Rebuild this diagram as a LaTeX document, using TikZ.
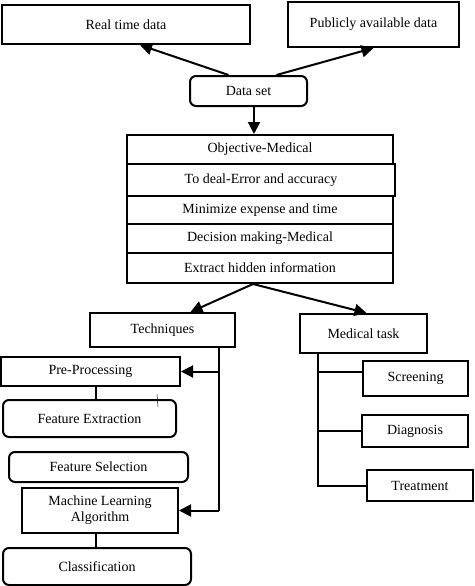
\documentclass[tikz,border=0pt]{standalone}
\usepackage{fontspec}
\setmainfont{Liberation Serif}
\usetikzlibrary{arrows.meta}
\tikzset{
  box/.style={draw, line width=2pt, inner sep=1pt, align=center, font=\fontsize{14}{16}\selectfont},
  rbox/.style={box, rounded corners=6pt},
  link/.style={line width=2pt},
  arr/.style={link, -{Triangle[length=12pt, width=12pt]}}
}
\begin{document}
\begin{tikzpicture}[x=1pt, y=-1pt]
  \useasboundingbox (0,0) rectangle (474,586);
  \node [box, minimum width=248pt, minimum height=39pt] (real) at (126, 24.5) {Real time data};
  \node [box, minimum width=171pt, minimum height=45pt] (public) at (373.5, 24.5) {Publicly available data};
  \node [rbox, minimum width=117pt, minimum height=30pt] (dataset) at (248.5, 91) {Data set};
  \node [box, minimum width=266pt, minimum height=29pt] (obj1) at (260, 149.5) {Objective-Medical};
  \node [box, minimum width=268pt, minimum height=32pt] (obj2) at (261, 180) {To deal-Error and accuracy};
  \node [box, minimum width=266pt, minimum height=28pt] (obj3) at (260, 210) {Minimize expense and time};
  \node [box, minimum width=266pt, minimum height=29pt] (obj4) at (260, 238.5) {Decision making-Medical};
  \node [box, minimum width=266pt, minimum height=30pt] (obj5) at (260, 268) {Extract hidden information};
  \node [box, minimum width=145pt, minimum height=34pt] (tech) at (162.5, 330) {Techniques};
  \node [box, minimum width=127pt, minimum height=39pt] (med) at (363.5, 333.5) {Medical task};
  \node [box, minimum width=179pt, minimum height=29pt] (pre) at (90.5, 371.5) {Pre-Processing};
  \node [rbox, minimum width=173pt, minimum height=37pt] (fext) at (89.5, 418.5) {Feature Extraction};
  \node [rbox, minimum width=179pt, minimum height=30pt] (fsel) at (98.5, 467) {Feature Selection};
  \node [box, minimum width=156pt, minimum height=45pt] (mla) at (100, 510.5) {Machine Learning\\Algorithm};
  \node [rbox, minimum width=188pt, minimum height=37pt] (cls) at (97, 566.5) {Classification};
  \node [box, minimum width=105pt, minimum height=35pt] (scr) at (415.5, 378.5) {Screening};
  \node [box, minimum width=106pt, minimum height=32pt] (diag) at (415, 431) {Diagnosis};
  \node [box, minimum width=106pt, minimum height=31pt] (treat) at (420, 485.5) {Treatment};

  \draw [arr] ([xshift=-20pt]dataset.north) -- ([xshift=14pt]real.south);
  \draw [arr] ([xshift=28pt]dataset.north) -- (public.south);
  \draw [arr] ([xshift=5.5pt]dataset.south) -- ([xshift=5.5pt]dataset.south |- obj1.north);
  \draw [arr] ([xshift=-7pt]obj5.south) -- ([xshift=28pt]tech.north);
  \draw [arr] ([xshift=-7pt]obj5.south) -- ([xshift=3pt]med.north);

  \coordinate (tj) at ([xshift=56.5pt]tech.south);
  \draw [link] (tj) -- (tj |- mla.east);
  \draw [arr] (tj |- pre.east) -- (pre.east);
  \draw [arr] (tj |- mla.east) -- (mla.east);
  \draw [link] ([xshift=5.5pt]pre.south) -- ([xshift=5.5pt]pre.south |- fext.north);
  \draw [link] ([xshift=-4pt]mla.south) -- ([xshift=-4pt]mla.south |- cls.north);
  \draw [thin] (157,394) -- (158,407);

  \coordinate (mj) at ([xshift=-45.5pt]med.south);
  \draw [link] (mj) |- (treat.west);
  \draw [link] (mj |- scr.west) ++(0,-7) -- ([yshift=7pt]scr.west);
  \draw [link] (mj |- diag.west) -- (diag.west);
\end{tikzpicture}
\end{document}
